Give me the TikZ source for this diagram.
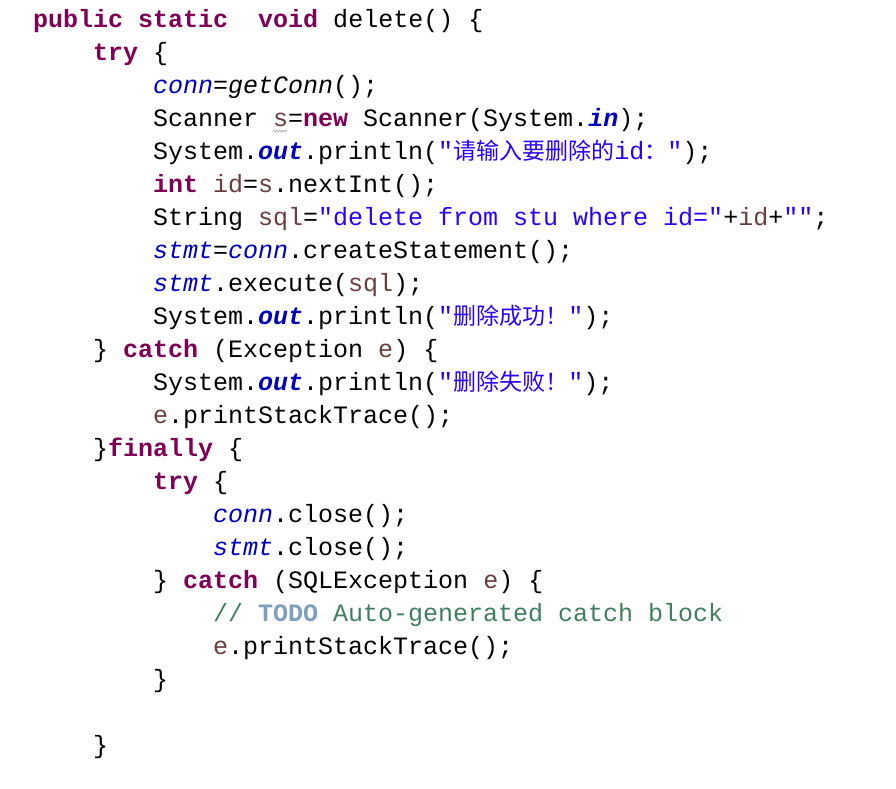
\documentclass[tikz,border=0pt]{standalone}
\usepackage{fontspec}
\setmonofont{Liberation Mono}
\newfontfamily\cjk{Noto Sans CJK SC}
\usetikzlibrary{decorations.pathmorphing}
\definecolor{kwc}{HTML}{7F0055}
\definecolor{fldc}{HTML}{0000C0}
\definecolor{strc}{HTML}{2A00FF}
\definecolor{lvc}{HTML}{6A3E3E}
\definecolor{cmc}{HTML}{3F7F5F}
\definecolor{todoc}{HTML}{7F9FBF}
\newcommand{\kw}[1]{{\color{kwc}\bfseries #1}}
\newcommand{\fld}[1]{{\color{fldc}\bfseries\itshape #1}}
\newcommand{\stf}[1]{{\color{fldc}\itshape #1}}
\newcommand{\strl}[1]{{\color{strc}#1}}
\newcommand{\lv}[1]{{\color{lvc}#1}}
\newcommand{\cmt}[1]{{\color{cmc}#1}}
\newcommand{\tdo}[1]{{\color{todoc}\bfseries #1}}
\newcommand{\zh}[1]{{\cjk\fontsize{23}{30}\selectfont #1}}
\tikzset{codeline/.style={anchor=base west,inner sep=0pt,font=\ttfamily\fontsize{25}{30}\selectfont}}
\begin{document}
\begin{tikzpicture}[x=1pt,y=-1pt]
\useasboundingbox (0,0) rectangle (896,788);
\def\lx#1{33+15*#1}
\node[codeline] (l1) at (33,27) {\kw{public}\ \kw{static}\ \ \kw{void}\ delete()\ \{};
\node[codeline] (l2) at (93,60) {\kw{try}\ \{};
\node[codeline] (l3) at (153,93) {\stf{conn}=\textit{getConn}();};
\node[codeline] (l4) at (153,126) {Scanner\ \lv{s}=\kw{new}\ Scanner(System.\fld{in});};
\node[codeline] (l5) at (153,159) {System.\fld{out}.println(\strl{"\zh{请输入要删除的}id\zh{：}"});};
\node[codeline] (l6) at (153,192) {\kw{int}\ \lv{id}=\lv{s}.nextInt();};
\node[codeline] (l7) at (153,225) {String\ \lv{sql}=\strl{"delete\ from\ stu\ where\ id="}+\lv{id}+\strl{""};};
\node[codeline] (l8) at (153,258) {\stf{stmt}=\stf{conn}.createStatement();};
\node[codeline] (l9) at (153,291) {\stf{stmt}.execute(\lv{sql});};
\node[codeline] (l10) at (153,324) {System.\fld{out}.println(\strl{"\zh{删除成功！}"});};
\node[codeline] (l11) at (93,357) {\}\ \kw{catch}\ (Exception\ \lv{e})\ \{};
\node[codeline] (l12) at (153,390) {System.\fld{out}.println(\strl{"\zh{删除失败！}"});};
\node[codeline] (l13) at (153,423) {\lv{e}.printStackTrace();};
\node[codeline] (l14) at (93,456) {\}\kw{finally}\ \{};
\node[codeline] (l15) at (153,489) {\kw{try}\ \{};
\node[codeline] (l16) at (213,522) {\stf{conn}.close();};
\node[codeline] (l17) at (213,555) {\stf{stmt}.close();};
\node[codeline] (l18) at (153,588) {\}\ \kw{catch}\ (SQLException\ \lv{e})\ \{};
\node[codeline] (l19) at (213,621) {\cmt{//\ }\tdo{TODO}\cmt{\ Auto-generated\ catch\ block}};
\node[codeline] (l20) at (213,654) {\lv{e}.printStackTrace();};
\node[codeline] (l21) at (153,687) {\}};
\node[codeline] (l23) at (93,753) {\}};
\draw[gray!70,line width=0.6pt,decorate,decoration={zigzag,segment length=3pt,amplitude=1pt}] (273,131) -- (287,131);
\end{tikzpicture}
\end{document}
